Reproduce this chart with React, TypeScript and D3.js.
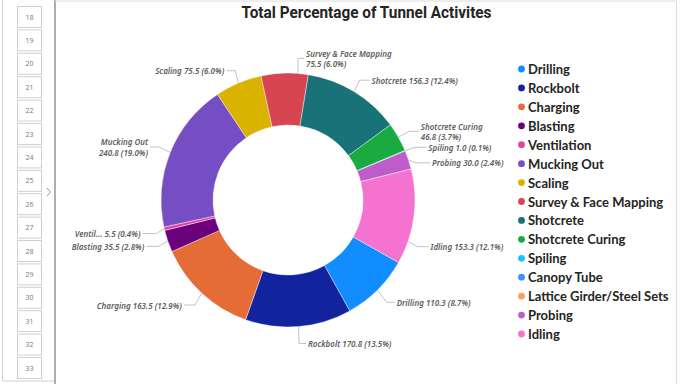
import React from 'react';
import * as d3 from 'd3';

const title = 'Total Percentage of Tunnel Activites';
const categories = [
  'Drilling', 'Rockbolt', 'Charging', 'Blasting', 'Ventilation', 'Mucking Out', 'Scaling',
  'Survey & Face Mapping', 'Shotcrete', 'Shotcrete Curing', 'Spiling', 'Canopy Tube',
  'Lattice Girder/Steel Sets', 'Probing', 'Idling',
];
const values = [110.3, 170.8, 163.5, 35.5, 5.5, 240.8, 75.5, 75.5, 156.3, 46.8, 1.0, 0, 0, 30.0, 153.3];
const colors = [
  '#118DFF', '#12239E', '#E66C37', '#6B007B', '#E044A7', '#744EC2', '#D9B300',
  '#D64550', '#197278', '#1AAB40', '#15C6F4', '#4092FF', '#FFA058', '#BE5DC9', '#F472D0',
];
const rowNumbers = ['18', '19', '20', '21', '22', '23', '24', '25', '26', '27', '28', '29', '30', '31', '32', '33'];

// label layout (styling only): t = anchor fraction in slice, e = elbow extension, dy = vertical shift, h = horizontal leg
type LL = { t: number; e: number; dy: number; h: number; side: 'left' | 'right'; two?: boolean; trunc?: number };
const labelLayout: Record<string, LL> = {
  'Drilling': { t: 0.5, e: 13, dy: 3, h: 8, side: 'right' },
  'Rockbolt': { t: 0.5, e: 5, dy: 12, h: 7, side: 'right' },
  'Charging': { t: 0.5, e: 10, dy: 4.5, h: 11, side: 'left' },
  'Blasting': { t: 0.5, e: 10, dy: 2, h: 12, side: 'left' },
  'Ventilation': { t: 0.5, e: 8, dy: 3, h: 14, side: 'left', trunc: 6 },
  'Mucking Out': { t: 0.5, e: 12, dy: -1, h: 9, side: 'left', two: true },
  'Scaling': { t: 0.5, e: 8, dy: -5, h: 9, side: 'left' },
  'Survey & Face Mapping': { t: 0.78, e: 0, dy: -15, h: 6, side: 'right', two: true },
  'Shotcrete': { t: 0.5, e: 10, dy: -3, h: 10, side: 'right' },
  'Shotcrete Curing': { t: 0.5, e: 12, dy: 0, h: 10, side: 'right', two: true },
  'Spiling': { t: 0.5, e: 10, dy: 0.5, h: 12, side: 'right' },
  'Probing': { t: 0.5, e: 8, dy: 5.5, h: 14, side: 'right' },
  'Idling': { t: 0.76, e: 10, dy: 2, h: 11, side: 'right' },
};

const W = 680;
const H = 384;
const cx = 288;
const cy = 200;
const outerR = 127;
const innerR = 75;
const startDeg = 119.5;

export default function App() {
  const data = categories.map((c, i) => ({ name: c, value: values[i], color: colors[i] }));
  const total = d3.sum(values);
  const start = (startDeg * Math.PI) / 180;
  const pie = d3.pie<any>().sort(null).value((d: any) => d.value).startAngle(start).endAngle(start + 2 * Math.PI);
  const arcs = pie(data);
  const arcGen = d3.arc<any>().innerRadius(innerR).outerRadius(outerR);
  const fmt = d3.format('.1f');

  const legendY = d3.scalePoint<string>().domain(categories).range([69, 334]);
  const rowY = d3.scalePoint<string>().domain(rowNumbers).range([17, 368]);

  const labelFont = "'Noto Sans', sans-serif";
  const lfs = 8;
  return (
    <div style={{ position: 'fixed', left: 0, top: 0, width: W, height: H, background: '#fff' }}>
      <svg width={W} height={H} style={{ display: 'block' }}>
        {/* left row panel */}
        <line x1={2.5} y1={0} x2={2.5} y2={381} stroke="#d0d0d0" strokeWidth={1} />
        <line x1={2.5} y1={381} x2={55} y2={381} stroke="#d0d0d0" strokeWidth={1} />
        <line x1={55} y1={0} x2={55} y2={384} stroke="#9a9a9a" strokeWidth={1.6} />
        <line x1={55} y1={1} x2={676} y2={1} stroke="#dcdcdc" strokeWidth={1} />
        <line x1={676.5} y1={1} x2={676.5} y2={384} stroke="#dcdcdc" strokeWidth={1} />
        {rowNumbers.map((r) => (
          <g key={r}>
            <rect x={17.5} y={(rowY(r) as number) - 10.5} width={24} height={21} fill="#fff" stroke="#cfcfcf" strokeWidth={1} />
            <text x={29.5} y={rowY(r) as number} textAnchor="middle" dominantBaseline="central"
              fontFamily="'Open Sans', sans-serif" fontSize={7} fill="#777">{r}</text>
          </g>
        ))}
        <polyline points="47,188 50.5,192 47,196" fill="none" stroke="#999" strokeWidth={1} />

        {/* title */}
        <text x={366.5} y={18} textAnchor="middle" fontFamily="Roboto, sans-serif" fontWeight={700}
          fontSize={17} fill="#252423" textLength={250} lengthAdjust="spacingAndGlyphs">{title}</text>

        {/* donut */}
        <g transform={`translate(${cx},${cy})`}>
          {arcs.map((a, i) => (a.value > 0 ? (
            <path key={i} d={arcGen(a) as string} fill={a.data.color} stroke="#fff" strokeWidth={0.4} />
          ) : null))}
        </g>

        {/* labels */}
        {arcs.map((a, i) => {
          const d = a.data;
          const L = labelLayout[d.name];
          if (!L || d.value <= 0) return null;
          const ang = a.startAngle + L.t * (a.endAngle - a.startAngle);
          const ax = cx + outerR * Math.sin(ang);
          const ay = cy - outerR * Math.cos(ang);
          const ex = ax + L.e * Math.sin(ang);
          const ey = ay - L.e * Math.cos(ang) + L.dy;
          const sgn = L.side === 'right' ? 1 : -1;
          const hx = ex + sgn * L.h;
          const tx = hx + sgn * 2;
          const name = L.trunc ? d.name.slice(0, L.trunc) + '...' : d.name;
          const valTxt = `${fmt(d.value)} (${fmt((d.value / total) * 100)}%)`;
          const anchor = L.side === 'right' ? 'start' : 'end';
          return (
            <g key={'l' + i}>
              <polyline points={`${ax},${ay} ${ex},${ey} ${hx},${ey}`} fill="none" stroke="#b3b3b3" strokeWidth={0.8} />
              {L.two ? (
                <text x={tx} y={ey} textAnchor={anchor} fontFamily={labelFont} fontStyle="italic" fontWeight={600}
                  fontSize={lfs} fill="#605E5C">
                  <tspan x={tx} dy={-5.3} dominantBaseline="central">{name}</tspan>
                  <tspan x={tx} dy={10.6} dominantBaseline="central">{valTxt}</tspan>
                </text>
              ) : (
                <text x={tx} y={ey} textAnchor={anchor} dominantBaseline="central" fontFamily={labelFont}
                  fontStyle="italic" fontWeight={600} fontSize={lfs} fill="#605E5C">{`${name} ${valTxt}`}</text>
              )}
            </g>
          );
        })}

        {/* legend */}
        {data.map((d) => (
          <g key={'lg' + d.name}>
            <circle cx={521.5} cy={legendY(d.name) as number} r={3.4} fill={d.color} />
            <text x={528} y={legendY(d.name) as number} dominantBaseline="central" fontFamily="Lato, sans-serif"
              fontWeight={700} fontSize={13} fill="#252423">{d.name}</text>
          </g>
        ))}
      </svg>
    </div>
  );
}
